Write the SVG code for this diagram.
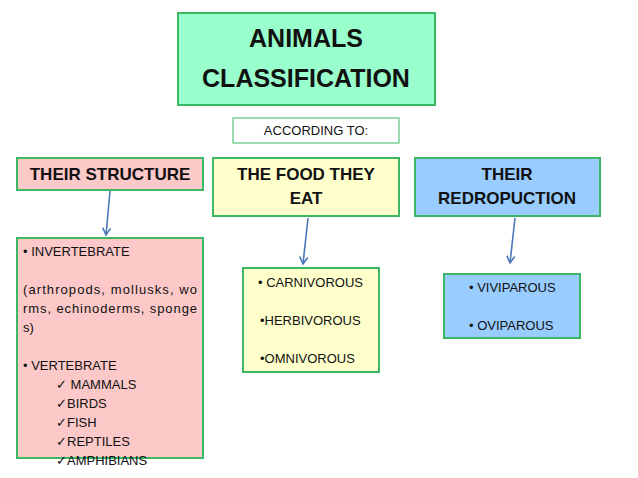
<svg xmlns="http://www.w3.org/2000/svg" width="638" height="478" viewBox="0 0 638 478">
<style>
text{font-family:"Liberation Sans",Arial,sans-serif;fill:#111}
.b{stroke:#3cb864;stroke-width:2}
.h{font-weight:bold;font-size:17px}
.t{font-size:13px}
.c{stroke:#4a78b8;stroke-width:1.6;fill:none;marker-end:url(#a)}
</style>
<defs><marker id="a" markerWidth="10" markerHeight="10" refX="8" refY="5" orient="auto" markerUnits="userSpaceOnUse"><path d="M1,1 L8,5 L1,9" fill="none" stroke="#4a78b8" stroke-width="1.6"/></marker></defs>
<rect width="638" height="478" fill="#fff"/>
<g id="title"><rect class="b" x="178" y="13" width="257" height="92" fill="#99ffcc"/>
<text x="306" y="47" text-anchor="middle" font-weight="bold" font-size="25">ANIMALS</text>
<text x="306" y="87" text-anchor="middle" font-weight="bold" font-size="25">CLASSIFICATION</text></g>
<g id="according"><rect x="233" y="118" width="166" height="25" fill="#fff" stroke="#3cb864" stroke-width="1"/>
<text x="316" y="135" text-anchor="middle" class="t">ACCORDING TO:</text></g>
<g id="structure"><rect class="b" x="17" y="158" width="186" height="32" fill="#fcc8c8"/>
<text x="110" y="180" text-anchor="middle" class="h">THEIR STRUCTURE</text></g>
<g id="food"><rect class="b" x="213" y="158" width="186" height="58" fill="#ffffcc"/>
<text x="306" y="180" text-anchor="middle" class="h">THE FOOD THEY</text>
<text x="306" y="204" text-anchor="middle" class="h">EAT</text></g>
<g id="repro"><rect class="b" x="415" y="158" width="185" height="58" fill="#99ccff"/>
<text x="507" y="180" text-anchor="middle" class="h">THEIR</text>
<text x="507" y="204" text-anchor="middle" class="h">REDROPUCTION</text></g>
<g id="structure-list"><rect class="b" x="17" y="238" width="186" height="220" fill="#fcc8c8"/>
<g class="t"><text x="23" y="256">• INVERTEBRATE</text>
<text x="23" y="294" textLength="174">(arthropods, mollusks, wo</text>
<text x="23" y="313" textLength="174">rms, echinoderms, sponge</text>
<text x="23" y="332">s)</text>
<text x="23" y="370">• VERTEBRATE</text>
<text x="56" y="389">✓ MAMMALS</text>
<text x="56" y="408">✓BIRDS</text>
<text x="56" y="427">✓FISH</text>
<text x="56" y="446">✓REPTILES</text>
<text x="56" y="465">✓AMPHIBIANS</text></g></g>
<g id="food-list"><rect class="b" x="243" y="268" width="136" height="104" fill="#ffffcc"/>
<g class="t"><text x="258" y="287">• CARNIVOROUS</text>
<text x="260" y="325">•HERBIVOROUS</text>
<text x="260" y="363">•OMNIVOROUS</text></g></g>
<g id="repro-list"><rect class="b" x="444" y="274" width="136" height="64" fill="#99ccff"/>
<g class="t"><text x="469" y="292">• VIVIPAROUS</text>
<text x="469" y="330">• OVIPAROUS</text></g></g>
<g id="connectors">
<path class="c" d="M110,191 L106,235"/>
<path class="c" d="M308,218 L303,264"/>
<path class="c" d="M515,218 L510,263"/>
</g>
</svg>
